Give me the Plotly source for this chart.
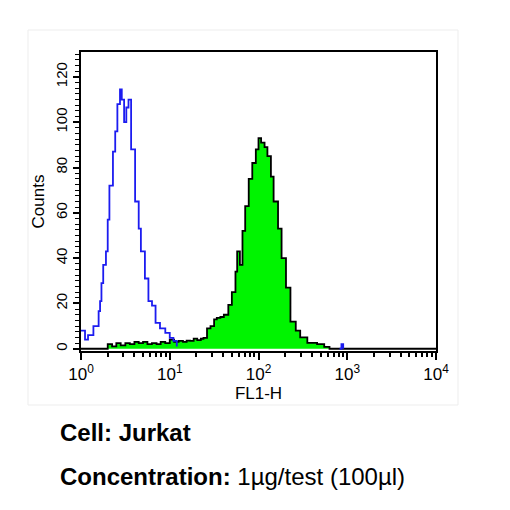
import plotly.graph_objects as go

# Isotype control (blue outline); None breaks the line where it lies on the baseline
blue_x = [1.0, 1.11, 1.2, 1.38, 1.58, 1.64, 1.70, 1.78, 1.91, 2.0, 2.09, 2.29, 2.43, 2.57,
          2.75, 2.88, 3.06, 3.24, 3.43, 3.67, 4.07, 4.47, 4.73, 5.25, 5.75, 6.31, 6.92,
          7.76, 8.91, 10.0, 11.0, 12.0, None, 820, 860, 900]
blue_y = [8, 4, 6, 10, 16.6, 21, 29, 37, 43, 57, 72, 87, 96, 108,
          114.5, 110, 100, 106.5, 110, 88, 65, 53, 43, 31, 21, 19, 11.4,
          9, 7, 4.8, 3.5, 1, None, 0, 2, 0]

# Antibody stained (green filled)
green_x = [1.0, 1.9, 2.0, 2.24, 2.5, 2.8, 3.16, 3.55, 4.0, 4.47, 5.0, 5.6, 6.3, 7.1, 7.9,
           8.9, 10.0, 11.2, 12.6, 14.1, 15.5, 17.0, 18.6, 20.4, 22.4, 24.0, 26.3, 28.8,
           31.6, 33.9, 37.2, 40.7, 45.7, 50.1, 55.0, 57.5, 61.7, 66.0, 70.8, 77.6, 85.1,
           93.3, 100, 107, 117, 126, 138, 148, 166, 182, 204, 229, 263, 295, 355, 457,
           550, 631, 10000]
green_y = [0, 0, 2, 1, 2.5, 1.5, 2.5, 2, 3, 2.5, 3, 2, 2.5, 2, 3,
           2.5, 4, 3, 3.5, 3, 3.6, 3.5, 4.5, 3.8, 4.4, 4.8, 9, 10,
           13, 13.6, 14, 15, 19.4, 25, 34, 43, 37, 52, 63, 75, 82,
           88, 93, 91, 89, 85, 76, 65, 53, 40, 27, 12, 8, 5, 2.6, 2,
           0.8, 0, 0]

x_tickvals = [1, 10, 100, 1000, 10000]
x_exponents = ["0", "1", "2", "3", "4"]
y_tickvals = [0, 20, 40, 60, 80, 100, 120]

x_ticktext = ["10<sup>%s</sup>" % e for e in x_exponents]

fig = go.Figure()
fig.add_trace(go.Scatter(x=green_x, y=green_y, mode="lines", line_shape="hv",
                         fill="tozeroy", fillcolor="#00f400",
                         line=dict(color="black", width=1.8), showlegend=False))
fig.add_trace(go.Scatter(x=blue_x, y=blue_y, mode="lines", line_shape="hv",
                         connectgaps=False,
                         line=dict(color="#1c1cf0", width=1.8), showlegend=False))

font = "Liberation Sans, Arial, sans-serif"
fig.update_layout(
    width=510, height=510,
    margin=dict(l=81, r=74, t=52, b=159),
    paper_bgcolor="white", plot_bgcolor="white",
    font=dict(family=font, color="black"),
    xaxis=dict(type="log", range=[0, 4], showgrid=False, zeroline=False,
               showline=True, mirror=True, linecolor="black", linewidth=2,
               ticks="outside", ticklen=7, tickwidth=1.5, tickcolor="black",
               tickvals=x_tickvals, ticktext=x_ticktext,
               tickfont=dict(size=17, family=font),
               minor=dict(ticks="outside", ticklen=4, tickcolor="black", tickwidth=1.5,
                          dtick="D1", showgrid=False),
               title=dict(text="FL1-H", font=dict(size=17, family=font), standoff=0)),
    yaxis=dict(range=[-1, 131], showgrid=False, zeroline=False,
               showline=True, mirror=True, linecolor="black", linewidth=2,
               ticks="outside", ticklen=6, tickwidth=1.5, tickcolor="black",
               tickvals=y_tickvals, tickangle=-90,
               tickfont=dict(size=15, family=font),
               minor=dict(ticks="outside", ticklen=4, tickcolor="black", tickwidth=1,
                          dtick=2.5, showgrid=False),
               title=dict(text="Counts", font=dict(size=17, family=font), standoff=4)),
    shapes=[dict(type="rect", xref="paper", yref="paper",
                 x0=(28 - 81) / 355, x1=(458 - 81) / 355,
                 y0=(351 - 405) / 299, y1=(351 - 30) / 299,
                 line=dict(color="#ededed", width=1), layer="below")],
    annotations=[
        dict(text="<b>Cell: Jurkat</b>", xref="paper", yref="paper",
             x=(58 - 81) / 355, y=(351 - 432) / 299, xanchor="left", yanchor="middle",
             showarrow=False, font=dict(size=24, family=font, color="black")),
        dict(text="<b>Concentration:</b> 1µg/test (100µl)", xref="paper", yref="paper",
             x=(58 - 81) / 355, y=(351 - 476) / 299, xanchor="left", yanchor="middle",
             showarrow=False, font=dict(size=24, family=font, color="black")),
    ],
)

fig.write_html("out.html", config={"displayModeBar": False},
               post_script="document.body.style.margin='0px';")
